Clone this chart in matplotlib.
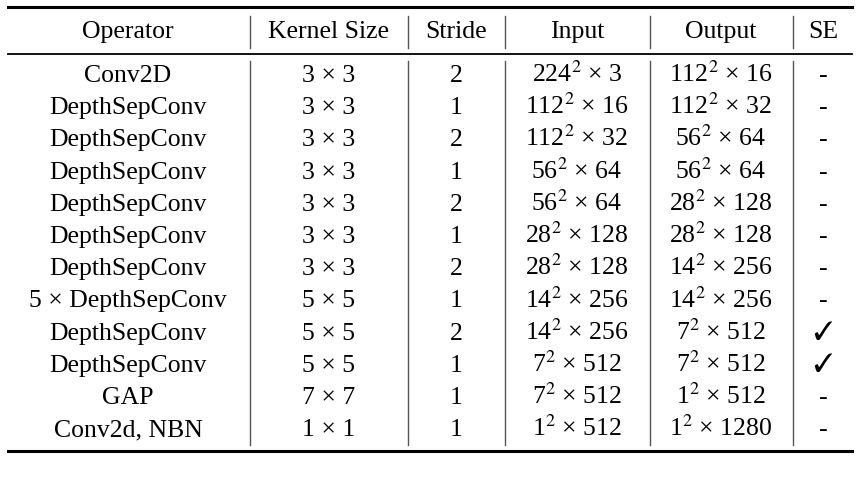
import matplotlib
matplotlib.use("Agg")
import matplotlib.pyplot as plt

plt.rcParams['mathtext.fontset'] = 'stix'
plt.rcParams['font.family'] = ['Liberation Serif', 'DejaVu Serif']

headers = ["Operator", "Kernel Size", "Stride", "Input", "Output", "SE"]
operators = ["Conv2D"] + ["DepthSepConv"] * 6 + ["5 × DepthSepConv", "DepthSepConv", "DepthSepConv", "GAP", "Conv2d, NBN"]
kernels = ["3", "3", "3", "3", "3", "3", "3", "5", "5", "5", "7", "1"]
strides = ["2", "1", "2", "1", "2", "1", "2", "1", "2", "1", "1", "1"]
inputs = [("224", "3"), ("112", "16"), ("112", "32"), ("56", "64"), ("56", "64"), ("28", "128"),
          ("28", "128"), ("14", "256"), ("14", "256"), ("7", "512"), ("7", "512"), ("1", "512")]
outputs = [("112", "16"), ("112", "32"), ("56", "64"), ("56", "64"), ("28", "128"), ("28", "128"),
           ("14", "256"), ("14", "256"), ("7", "512"), ("7", "512"), ("1", "512"), ("1", "1280")]
se = ["-"] * 8 + ["✓", "✓"] + ["-"] * 2

fig = plt.figure(figsize=(8.58, 4.82), dpi=100)
ax = fig.add_axes([0, 0, 1, 1])
ax.set_xlim(0, 858)
ax.set_ylim(482, 0)
ax.axis('off')

cx = [128, 329, 456, 577, 721, 823]
seps = [250, 408, 505, 650, 793]
fs = 18.5
off = 7

ax.plot([8, 852], [7, 7], color='black', lw=2.2)
ax.plot([8, 852], [54, 54], color='black', lw=1.3)
ax.plot([8, 852], [451, 451], color='black', lw=2.2)
for s in seps:
    ax.plot([s, s], [16, 48], color='#555555', lw=1.0)
    ax.plot([s, s], [61, 445], color='#555555', lw=1.0)

def t(x, y, s):
    ax.text(x, y + off, s, ha='center', va='baseline', fontsize=fs, color='black')

for x, h in zip(cx, headers):
    t(x, 31, h)

y0, dy = 75, 32.2
for i in range(len(operators)):
    y = y0 + i * dy
    t(cx[0], y, operators[i])
    t(cx[1], y, f"{kernels[i]} × {kernels[i]}")
    t(cx[2], y, strides[i])
    a, b = inputs[i]
    t(cx[3], y, f"{a}$^2$ × {b}")
    a, b = outputs[i]
    t(cx[4], y, f"{a}$^2$ × {b}")
    if se[i] == "✓":
        t(cx[5], y, r"$\checkmark$")
    else:
        t(cx[5], y, "-")

fig.savefig("out.png", dpi=100)
